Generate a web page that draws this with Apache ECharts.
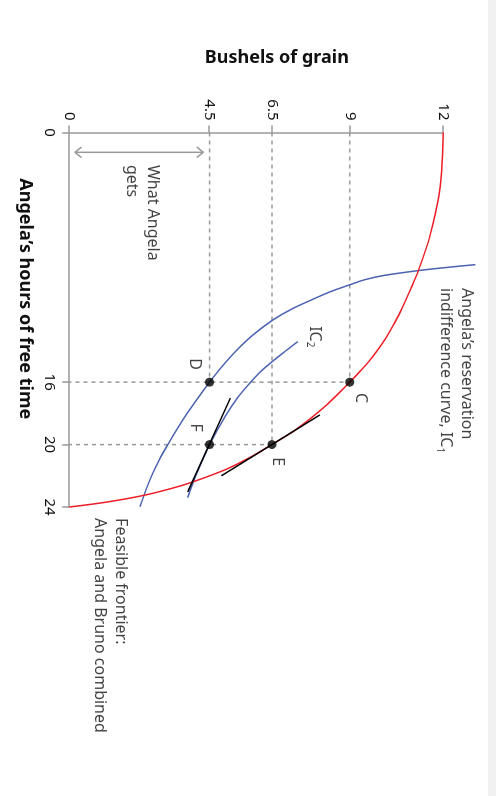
<!DOCTYPE html>
<html>
<head>
<meta charset="utf-8">
<script src="https://cdn.jsdelivr.net/npm/echarts@6/dist/echarts.min.js"></script>
<style>
html,body{margin:0;padding:0;overflow:hidden;background:#fff;width:496px;height:796px}
#chart{position:absolute;left:0;top:0;width:796px;height:496px;transform-origin:0 0;transform:translate(496px,0) rotate(90deg);}
#strip{position:fixed;right:0;top:0;width:8px;height:796px;background:#f1f1f1}
</style>
</head>
<body>
<div id="chart"></div>
<div id="strip"></div>
<script>
// ---- data (x = Angela's hours of free time, y = bushels of grain) ----
const hoursTicks = [0, 16, 20, 24];
const grainTicks = [0, 4.5, 6.5, 9, 12];

const frontier = [[0,12],[3.45,11.9],[6.63,11.57],[8.85,11.2],[10,10.96],[11.5,10.62],[12.34,10.4],[13.2,10.15],[14.03,9.86],[14.7,9.6],[15.3,9.33],[16,9],[16.7,8.65],[17.45,8.26],[18.2,7.82],[18.85,7.4],[19.4,7.0],[20,6.5],[20.8,5.82],[21.57,5.05],[22.4,3.95],[22.8,3.3],[23.25,2.4],[23.7,1.15],[24,0]];
const ic1 = [[8.47,13.03],[8.63,12.2],[8.85,11.2],[9.17,10.07],[9.45,9.45],[9.76,9.0],[10.2,8.38],[10.65,7.86],[11.3,7.15],[12.03,6.52],[13,5.88],[14,5.35],[15,4.9],[16,4.5],[17,4.13],[18,3.78],[19,3.46],[20,3.16],[21,2.88],[22,2.64],[23,2.44],[23.98,2.27]];
const ic2 = [[13.4,7.33],[14.0,6.94],[14.6,6.56],[15.3,6.15],[16.04,5.8],[16.99,5.4],[18.2,5.0],[20,4.5],[21.2,4.23],[22.28,4.0],[23.4,3.8]];

const tangentE = [[22.0,4.88],[18.1,8.04]];
const tangentF = [[23.03,3.8],[17.02,5.17]];

const pointNames = ['C','D','E','F'];
const pointHours = [16, 16, 20, 20];
const pointGrain = [9, 4.5, 6.5, 4.5];

const guideC = [[0,9],[16,9],[16,0]];
const guideE = [[0,6.5],[20,6.5],[20,0]];
const guideD = [[0,4.5],[16,4.5]];

const arrowHours = 1.27;
const arrowFromGrain = 0.18;
const arrowToGrain = 4.3;

const xName = 'Angela’s hours of free time';
const yName = 'Bushels of grain';
const ic1Text = 'Angela’s reservation\nindifference curve, IC{sub|1}';
const ic2Text = 'IC{sub|2}';
const whatText = 'What Angela\ngets';
const frontierText = 'Feasible frontier:\nAngela and Bruno combined';

// ---- chart ----
const FONT = 'Noto Sans';
const chart = echarts.init(document.getElementById('chart'), null, {renderer: 'canvas'});

const guideStyle = {color: '#999', width: 1.5, type: [4, 4]};
function guide(d) {
  return {type: 'line', data: d, symbol: 'none', silent: true, lineStyle: guideStyle, z: 1};
}
// arrow heads (chevrons) built from arrow values
const headG = 0.21, headH = 0.34;
const arrowLine = [[arrowHours, arrowFromGrain], [arrowHours, arrowToGrain]];
const arrowHeadA = [[arrowHours - headH, arrowFromGrain + headG], [arrowHours, arrowFromGrain], [arrowHours + headH, arrowFromGrain + headG]];
const arrowHeadB = [[arrowHours - headH, arrowToGrain - headG], [arrowHours, arrowToGrain], [arrowHours + headH, arrowToGrain - headG]];
const arrowStyle = {color: '#999', width: 1.5};

const labelOffsets = {C: [16, -11], D: [-18, 15], E: [17, -6], F: [-17, 14]};
const txtStyle = {fontFamily: FONT, fontSize: 16, color: '#111'};
const subRich = {sub: {fontFamily: FONT, fontSize: 10, color: '#111', verticalAlign: 'bottom', padding: [8, 0, 0, 0]}};

function annot(h, g, text, align, vAlign, lh) {
  return {
    type: 'scatter', symbolSize: 0, silent: true, clip: false, z: 5,
    data: [{value: [h, g]}],
    label: {show: true, position: 'inside', formatter: text, align: align, verticalAlign: vAlign,
      lineHeight: lh || 21, rich: Object.assign({}, subRich), ...txtStyle}
  };
}
function curve(name, d, color, z) {
  return {type: 'line', name: name, data: d, smooth: 0.35, symbol: 'none', clip: false,
    lineStyle: {color: color, width: 1.5}, z: z};
}

const option = {
  animation: false,
  grid: {left: 132.5, right: 289, top: 52.7, bottom: 69.3, containLabel: false},
  xAxis: {
    type: 'value', min: 0, max: 24,
    name: xName, nameLocation: 'middle', nameGap: 35,
    nameTextStyle: {fontFamily: FONT, fontSize: 18, fontWeight: 'bold', color: '#111', padding: [0, 42, 0, 0]},
    axisLine: {show: true, lineStyle: {color: '#999', width: 1.5}},
    axisTick: {show: true, length: 7, customValues: hoursTicks, lineStyle: {color: '#999', width: 1.5}},
    axisLabel: {customValues: hoursTicks, margin: 13, fontFamily: FONT, fontSize: 15, color: '#111'},
    splitLine: {show: false}
  },
  yAxis: {
    type: 'value', min: 0, max: 12,
    name: yName, nameLocation: 'middle', nameGap: 66, nameRotate: 90,
    nameTextStyle: {fontFamily: FONT, fontSize: 18, fontWeight: 'bold', color: '#111', padding: [0, 0, 0, 41]},
    axisLine: {show: true, lineStyle: {color: '#999', width: 1.5}},
    axisTick: {show: true, length: 7, customValues: grainTicks, lineStyle: {color: '#999', width: 1.5}},
    axisLabel: {customValues: grainTicks, margin: 12, fontFamily: FONT, fontSize: 15, color: '#111'},
    splitLine: {show: false}
  },
  series: [
    guide(guideC), guide(guideE), guide(guideD),
    {type: 'line', data: arrowLine, symbol: 'none', silent: true, lineStyle: arrowStyle},
    {type: 'line', data: arrowHeadA, symbol: 'none', silent: true, lineStyle: arrowStyle},
    {type: 'line', data: arrowHeadB, symbol: 'none', silent: true, lineStyle: arrowStyle},
    curve('IC1', ic1, '#4a62b0', 2),
    curve('IC2', ic2, '#4a62b0', 2),
    curve('Frontier', frontier, '#ee1c25', 3),
    {type: 'line', data: tangentE, symbol: 'none', silent: true, lineStyle: {color: '#000', width: 1.5}, z: 4},
    {type: 'line', data: tangentF, symbol: 'none', silent: true, lineStyle: {color: '#000', width: 1.5}, z: 4},
    {
      type: 'scatter', symbolSize: 9, itemStyle: {color: '#000'}, z: 6, clip: false,
      data: pointNames.map((n, i) => ({
        name: n, value: [pointHours[i], pointGrain[i]],
        label: {show: true, position: 'inside', offset: labelOffsets[n], formatter: n, ...txtStyle}
      }))
    },
    annot(9.97, 13.08, ic1Text, 'left', 'top'),
    annot(13.09, 7.88, ic2Text, 'center', 'middle'),
    annot(2.08, 3.0, whatText, 'left', 'top'),
    annot(24.71, 1.98, frontierText, 'left', 'top')
  ]
};
chart.setOption(option);
</script>
</body>
</html>
